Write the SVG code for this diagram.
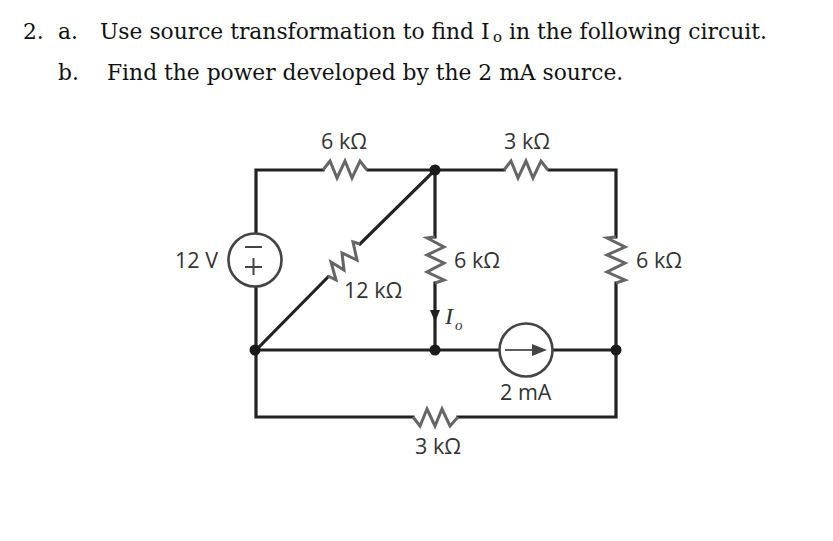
<svg xmlns="http://www.w3.org/2000/svg" width="833" height="541" viewBox="0 0 833 541">
<style>
.h{font-family:"DejaVu Serif","Liberation Serif",serif;font-size:21.8px;fill:#111}
.s{font-size:15px}
.l{font-family:"Open Sans","Noto Sans",sans-serif;font-size:21.5px;fill:#333}
.w{fill:none;stroke:#222;stroke-width:3.2;stroke-linecap:square}
.r{fill:none;stroke:#666;stroke-width:3;stroke-linejoin:miter}
.c{fill:#fff;stroke:#444;stroke-width:2.6}
.d{fill:#1a1a1a}
</style>
<defs>
<polygon id="hd" points="0,0 -15,-6 -15,6"/>
</defs>
<rect width="833" height="541" fill="#fff"/>
<g id="heading">
<text class="h" x="23" y="39">2.</text>
<text class="h" x="58" y="39">a.</text>
<text class="h" x="100" y="39">Use source transformation to find I</text>
<text class="h s" x="493" y="42">o</text>
<text class="h" x="509" y="39">in the following circuit.</text>
<text class="h" x="58" y="80">b.</text>
<text class="h" x="107" y="80">Find the power developed by the 2 mA source.</text>
</g>
<g id="connectors">
<path class="w" d="M323 170H256V234M256 286V350M256 350V417H413M458 417H616V350M616 350V283M616 237V170H549M504 170H368M435 170V237M435 283V350M256 350H500M552 350H616M256 350L328 277M360 244L435 170"/>
</g>
<g id="r1"><path class="r" d="M323 170L330 161L337 178L345 161L352 178L360 161L367 170"/><text class="l" x="321" y="149">6 kΩ</text></g>
<g id="r2"><path class="r" d="M504 170L511 161L518 178L526 161L533 178L541 161L548 170"/><text class="l" x="504" y="149">3 kΩ</text></g>
<g id="r3"><path class="r" d="M328 276L336 280L331 262L344 270L342 253L357 260L353 242L360 244"/><text class="l" x="344" y="298">12 kΩ</text></g>
<g id="r4"><path class="r" d="M435 237L427 238L444 247L427 255L444 263L427 272L444 280L435 283"/><text class="l" x="454" y="268">6 kΩ</text></g>
<g id="r5"><path class="r" d="M616 237L607 238L625 247L607 255L625 263L607 272L625 280L616 283"/><text class="l" x="636" y="268">6 kΩ</text></g>
<g id="r6"><path class="r" d="M413 417L420 426L427 409L435 426L442 409L450 426L458 417"/><text class="l" x="415" y="454">3 kΩ</text></g>
<g id="v1"><circle class="c" cx="255" cy="260" r="26.5"/><path d="M245 247H262M245 267H262M253.500 258V275" stroke="#444" stroke-width="2" fill="none"/><text class="l" x="175" y="268">12 V</text></g>
<g id="i1"><circle class="c" cx="526" cy="350" r="26.500"/><path d="M505 350H533" stroke="#333" stroke-width="1.6"/><use href="#hd" x="547" y="350" fill="#444"/><text class="l" x="500" y="400">2 mA</text></g>
<g id="io"><polygon points="435,322 430,310 440,310" fill="#222"/><text x="445" y="324" font-family="Liberation Serif,serif" font-style="italic" font-size="24" fill="#333">I</text><text x="455" y="330" font-family="Liberation Serif,serif" font-style="italic" font-size="15" fill="#333">o</text></g>
<g id="nodes"><circle class="d" cx="435" cy="170" r="5.5"/><circle class="d" cx="255" cy="350" r="5.5"/><circle class="d" cx="435" cy="350" r="5.5"/><circle class="d" cx="616" cy="350" r="5.5"/></g>
</svg>
